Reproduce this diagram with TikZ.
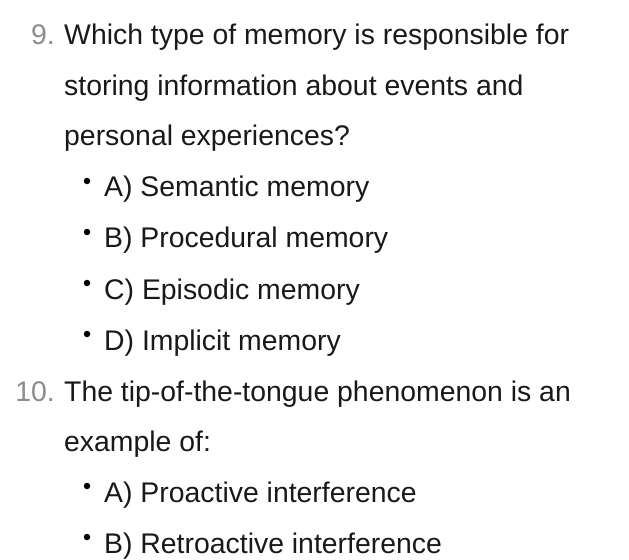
\documentclass[tikz,border=0pt]{standalone}
\usepackage{fontspec}
\setmainfont{Liberation Sans}
\begin{document}
\begin{tikzpicture}[x=1bp,y=-1bp,
  txt/.style={anchor=base west,inner sep=0pt,font=\fontsize{28.5}{32}\selectfont,text=black!90},
  num/.style={anchor=base east,inner sep=0pt,font=\fontsize{28.5}{32}\selectfont,text=black!45},
  bul/.style={circle,fill=black,inner sep=0pt,minimum size=6.5bp}]
\useasboundingbox (0,0) rectangle (629,560);
\node[num] (n9) at (55,45) {9.};
\node[txt] (q9a) at (64,45) {Which type of memory is responsible for};
\node[txt] (q9b) at (64,96) {storing information about events and};
\node[txt] (q9c) at (64,146) {personal experiences?};
\node[bul] (b1) at (87,181) {}; \node[txt] (a1) at (104,197) {A) Semantic memory};
\node[bul] (b2) at (87,232) {}; \node[txt] (a2) at (104,248) {B) Procedural memory};
\node[bul] (b3) at (87,283) {}; \node[txt] (a3) at (104,299) {C) Episodic memory};
\node[bul] (b4) at (87,334) {}; \node[txt] (a4) at (104,350) {D) Implicit memory};
\node[num] (n10) at (55,401) {10.};
\node[txt] (q10a) at (64,401) {The tip-of-the-tongue phenomenon is an};
\node[txt] (q10b) at (64,451) {example of:};
\node[bul] (b5) at (87,486) {}; \node[txt] (a5) at (104,502) {A) Proactive interference};
\node[bul] (b6) at (87,537) {}; \node[txt] (a6) at (104,553) {B) Retroactive interference};
\end{tikzpicture}
\end{document}
